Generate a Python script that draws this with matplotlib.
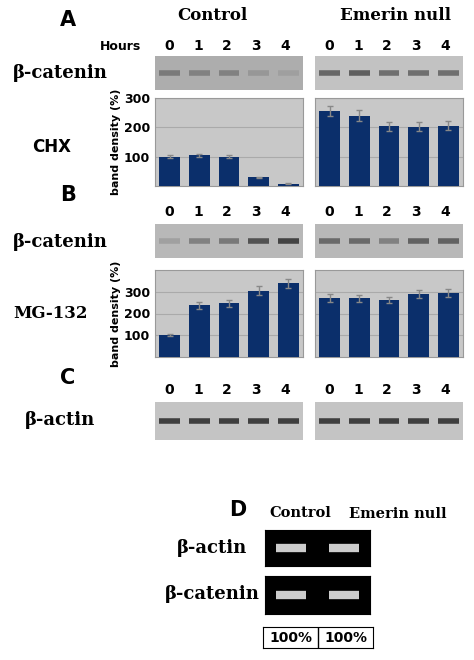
import matplotlib.pyplot as plt
import numpy as np

hours = ['0', '1', '2', '3', '4']

# panel A: CHX band density (%)
chx_ctrl = [100, 105, 100, 30, 8]
chx_ctrl_err = [5, 5, 5, 2, 1]
chx_null = [255, 240, 203, 202, 205]
chx_null_err = [18, 18, 15, 15, 15]

# panel B: MG-132 band density (%)
mg_ctrl = [100, 237, 247, 305, 338]
mg_ctrl_err = [5, 15, 15, 20, 20]
mg_null = [272, 270, 262, 290, 295]
mg_null_err = [18, 15, 15, 20, 18]

# band darkness (0..1) in each blot
blotA_ctrl = [0.35, 0.3, 0.3, 0.15, 0.1]
blotA_null = [0.55, 0.6, 0.5, 0.5, 0.5]
blotB_ctrl = [0.15, 0.35, 0.4, 0.65, 0.75]
blotB_null = [0.5, 0.5, 0.35, 0.55, 0.55]
blotC_ctrl = [0.8, 0.8, 0.8, 0.8, 0.8]
blotC_null = [0.8, 0.8, 0.8, 0.8, 0.8]

W, H = 474, 660
fig = plt.figure(figsize=(W / 100, H / 100), dpi=100)
navy = '#0b2f6b'
serif = 'DejaVu Serif'


def ax_px(x0, y0, x1, y1):
    return fig.add_axes([x0 / W, 1 - y1 / H, (x1 - x0) / W, (y1 - y0) / H])


def txt(x, y, s, **kw):
    kw.setdefault('ha', 'center')
    kw.setdefault('va', 'center')
    fig.text(x / W, 1 - y / H, s, fontweight='bold', **kw)


def blot(box, dark, bg=0.72):
    ax = ax_px(*box)
    ax.set_facecolor(str(bg))
    x = np.arange(len(dark))
    ax.scatter(x, [0] * len(dark), s=220, marker='_', linewidths=4,
               c=[str(bg * (1 - 0.85 * d)) for d in dark])
    ax.set_xlim(-0.5, len(dark) - 0.5)
    ax.set_ylim(-1, 1)
    ax.set_xticks([])
    ax.set_yticks([])
    for s in ax.spines.values():
        s.set_visible(False)


def bars(box, vals, errs, ylim, ticks, show_y):
    ax = ax_px(*box)
    ax.set_facecolor('#c8c8c8')
    x = np.arange(len(vals))
    ax.bar(x, vals, width=0.7, color=navy, yerr=errs, ecolor='#888888', capsize=2,
           error_kw={'elinewidth': 1}, zorder=3)
    ax.set_xlim(-0.5, len(vals) - 0.5)
    ax.set_ylim(*ylim)
    ax.set_yticks(ticks)
    ax.yaxis.grid(True, color='#aaaaaa', lw=0.8, zorder=0)
    ax.set_xticks([])
    ax.tick_params(axis='y', length=0, labelsize=9)
    if show_y:
        for t in ax.get_yticklabels():
            t.set_fontweight('bold')
        ax.set_ylabel('band density (%)', fontsize=8, fontweight='bold', labelpad=2)
    else:
        ax.set_yticklabels([])
    for s in ax.spines.values():
        s.set_color('#999999')
    return ax


# headers
txt(212, 16, 'Control', fontsize=12, family=serif)
txt(395, 16, 'Emerin null', fontsize=12, family=serif)
txt(68, 20, 'A', fontsize=15)
txt(68, 195, 'B', fontsize=15)
txt(68, 378, 'C', fontsize=15)

# panel A
txt(120, 46, 'Hours', fontsize=9)
for i, h in enumerate(hours):
    txt(169 + i * 29, 46, h, fontsize=10)
    txt(329 + i * 29, 46, h, fontsize=10)
txt(60, 73, 'β-catenin', fontsize=13, family=serif)
blot((155, 56, 303, 90), blotA_ctrl, bg=0.68)
blot((315, 56, 463, 90), blotA_null, bg=0.76)
txt(52, 147, 'CHX', fontsize=12)
bars((155, 98, 303, 186), chx_ctrl, chx_ctrl_err, (0, 300), [100, 200, 300], True)
bars((315, 98, 463, 186), chx_null, chx_null_err, (0, 300), [100, 200, 300], False)

# panel B
for i, h in enumerate(hours):
    txt(169 + i * 29, 212, h, fontsize=10)
    txt(329 + i * 29, 212, h, fontsize=10)
txt(60, 242, 'β-catenin', fontsize=13, family=serif)
blot((155, 224, 303, 258), blotB_ctrl)
blot((315, 224, 463, 258), blotB_null)
txt(50, 313, 'MG-132', fontsize=12, family=serif)
bars((155, 270, 303, 357), mg_ctrl, mg_ctrl_err, (0, 400), [100, 200, 300], True)
bars((315, 270, 463, 357), mg_null, mg_null_err, (0, 400), [100, 200, 300], False)

# panel C
for i, h in enumerate(hours):
    txt(169 + i * 29, 390, h, fontsize=10)
    txt(329 + i * 29, 390, h, fontsize=10)
txt(60, 420, 'β-actin', fontsize=13, family=serif)
blot((155, 402, 303, 440), blotC_ctrl, bg=0.77)
blot((315, 402, 463, 440), blotC_null, bg=0.77)

# panel D
txt(238, 510, 'D', fontsize=15)
txt(300, 513, 'Control', fontsize=10.5, family=serif)
txt(398, 514, 'Emerin null', fontsize=10.5, family=serif)
txt(212, 548, 'β-actin', fontsize=13, family=serif)
txt(212, 594, 'β-catenin', fontsize=13, family=serif)
for (y0, y1) in [(530, 566), (576, 614)]:
    ax = ax_px(265, y0, 370, y1)
    ax.set_facecolor('black')
    ax.scatter([0, 1], [0, 0], s=450, marker='_', linewidths=6, c='#cccccc')
    ax.set_xlim(-0.5, 1.5)
    ax.set_ylim(-1, 1)
    ax.set_xticks([])
    ax.set_yticks([])
ax = ax_px(263, 627, 373, 648)
ax.set_xlim(0, 2)
ax.set_ylim(0, 1)
ax.axvline(1, color='black', lw=1)
ax.set_xticks([])
ax.set_yticks([])
for i, s in enumerate(['100%', '100%']):
    ax.text(i + 0.5, 0.5, s, ha='center', va='center', fontsize=10, fontweight='bold')

fig.savefig('out.png', dpi=100)
